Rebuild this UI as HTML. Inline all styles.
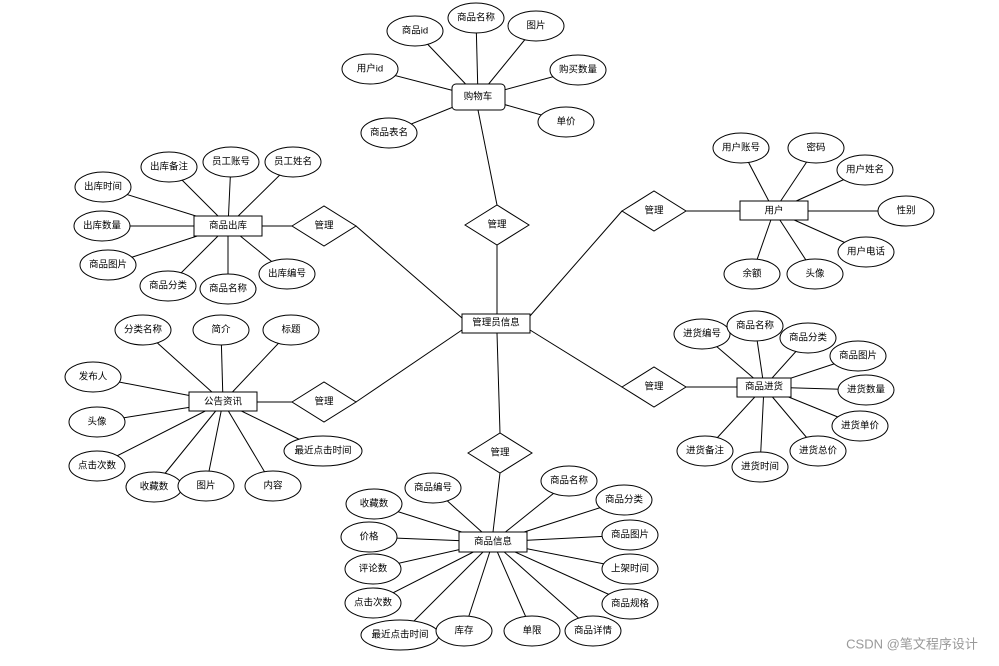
<!DOCTYPE html>
<html><head><meta charset="utf-8"><style>
body{margin:0;background:#fff}
svg text{font-family:"Liberation Sans","Noto Sans CJK SC",sans-serif;font-size:9.5px;fill:#000;text-anchor:middle;dominant-baseline:central}
</style></head><body>
<svg width="999" height="661" xmlns="http://www.w3.org/2000/svg" id="s">
<g stroke="#000" stroke-width="1" fill="none">
<line x1="478" y1="110" x2="497" y2="205"/><line x1="497" y1="245" x2="497" y2="314"/>
<line x1="262" y1="226" x2="292" y2="226"/><line x1="356" y1="226" x2="462" y2="318"/>
<line x1="257" y1="402" x2="292" y2="402"/><line x1="356" y1="402" x2="462" y2="330"/>
<line x1="686" y1="211" x2="740" y2="211"/><line x1="622" y1="211" x2="530" y2="316"/>
<line x1="686" y1="387" x2="737" y2="387"/><line x1="622" y1="387" x2="530" y2="330"/>
<line x1="497" y1="333" x2="500" y2="433"/><line x1="500" y1="473" x2="493" y2="532"/>
</g>
<g id="lines" stroke="#000" stroke-width="1"></g>
<g id="ells"></g>
<g stroke="#000" fill="#fff">
<rect x="452" y="84" width="53" height="26" rx="4"/>
<rect x="462" y="314" width="68" height="19"/>
<rect x="194" y="216" width="68" height="20"/>
<rect x="189" y="392" width="68" height="19"/>
<rect x="740" y="201" width="68" height="19"/>
<rect x="737" y="378" width="54" height="19"/>
<rect x="459" y="532" width="68" height="20"/>
<polygon points="465,225 497,205 529,225 497,245"/>
<polygon points="292,226 324,206 356,226 324,246"/>
<polygon points="292,402 324,382 356,402 324,422"/>
<polygon points="622,211 654,191 686,211 654,231"/>
<polygon points="622,387 654,367 686,387 654,407"/>
<polygon points="468,453 500,433 532,453 500,473"/>
</g>
<text x="478" y="97">购物车</text><text x="496" y="323">管理员信息</text>
<text x="228" y="226">商品出库</text><text x="223" y="402">公告资讯</text>
<text x="774" y="211">用户</text><text x="764" y="387">商品进货</text>
<text x="493" y="542">商品信息</text>
<text x="497" y="225">管理</text><text x="324" y="226">管理</text><text x="324" y="402">管理</text>
<text x="654" y="211">管理</text><text x="654" y="387">管理</text><text x="500" y="453">管理</text>
<text x="912" y="644" style="font-size:13px;fill:#999">CSDN @笔文程序设计</text>
</svg>
<script>
var data=[
[478,97,[[415,31,"商品id"],[476,18,"商品名称"],[536,26,"图片"],[370,69,"用户id"],[578,70,"购买数量"],[566,122,"单价"],[389,133,"商品表名"]]],
[228,226,[[169,167,"出库备注"],[231,162,"员工账号"],[293,162,"员工姓名"],[103,187,"出库时间"],[102,226,"出库数量"],[108,265,"商品图片"],[168,286,"商品分类"],[228,289,"商品名称"],[287,274,"出库编号"]]],
[223,402,[[143,330,"分类名称"],[221,330,"简介"],[291,330,"标题"],[93,377,"发布人"],[97,422,"头像"],[97,466,"点击次数"],[154,487,"收藏数"],[206,486,"图片"],[273,486,"内容"],[323,451,"最近点击时间",39]]],
[774,211,[[741,148,"用户账号"],[816,148,"密码"],[865,170,"用户姓名"],[906,211,"性别"],[866,252,"用户电话"],[815,274,"头像"],[752,274,"余额"]]],
[764,387,[[702,334,"进货编号"],[755,326,"商品名称"],[808,338,"商品分类"],[858,356,"商品图片"],[866,390,"进货数量"],[860,426,"进货单价"],[818,451,"进货总价"],[760,467,"进货时间"],[705,451,"进货备注"]]],
[493,542,[[433,488,"商品编号"],[569,481,"商品名称"],[374,504,"收藏数"],[624,500,"商品分类"],[369,537,"价格"],[630,535,"商品图片"],[373,569,"评论数"],[630,569,"上架时间"],[373,603,"点击次数"],[630,604,"商品规格"],[400,635,"最近点击时间",39],[464,631,"库存"],[532,631,"单限"],[593,631,"商品详情"]]]
];
var NS="http://www.w3.org/2000/svg",L=document.getElementById("lines"),E=document.getElementById("ells");
function el(t,a,p){var e=document.createElementNS(NS,t);for(var k in a)e.setAttribute(k,a[k]);p.appendChild(e);return e;}
data.forEach(function(d){d[2].forEach(function(o){
el("line",{x1:d[0],y1:d[1],x2:o[0],y2:o[1]},L);
el("ellipse",{cx:o[0],cy:o[1],rx:o[3]||28,ry:15,fill:"#fff",stroke:"#000"},E);
el("text",{x:o[0],y:o[1]},E).textContent=o[2];
});});
</script>
</body></html>
